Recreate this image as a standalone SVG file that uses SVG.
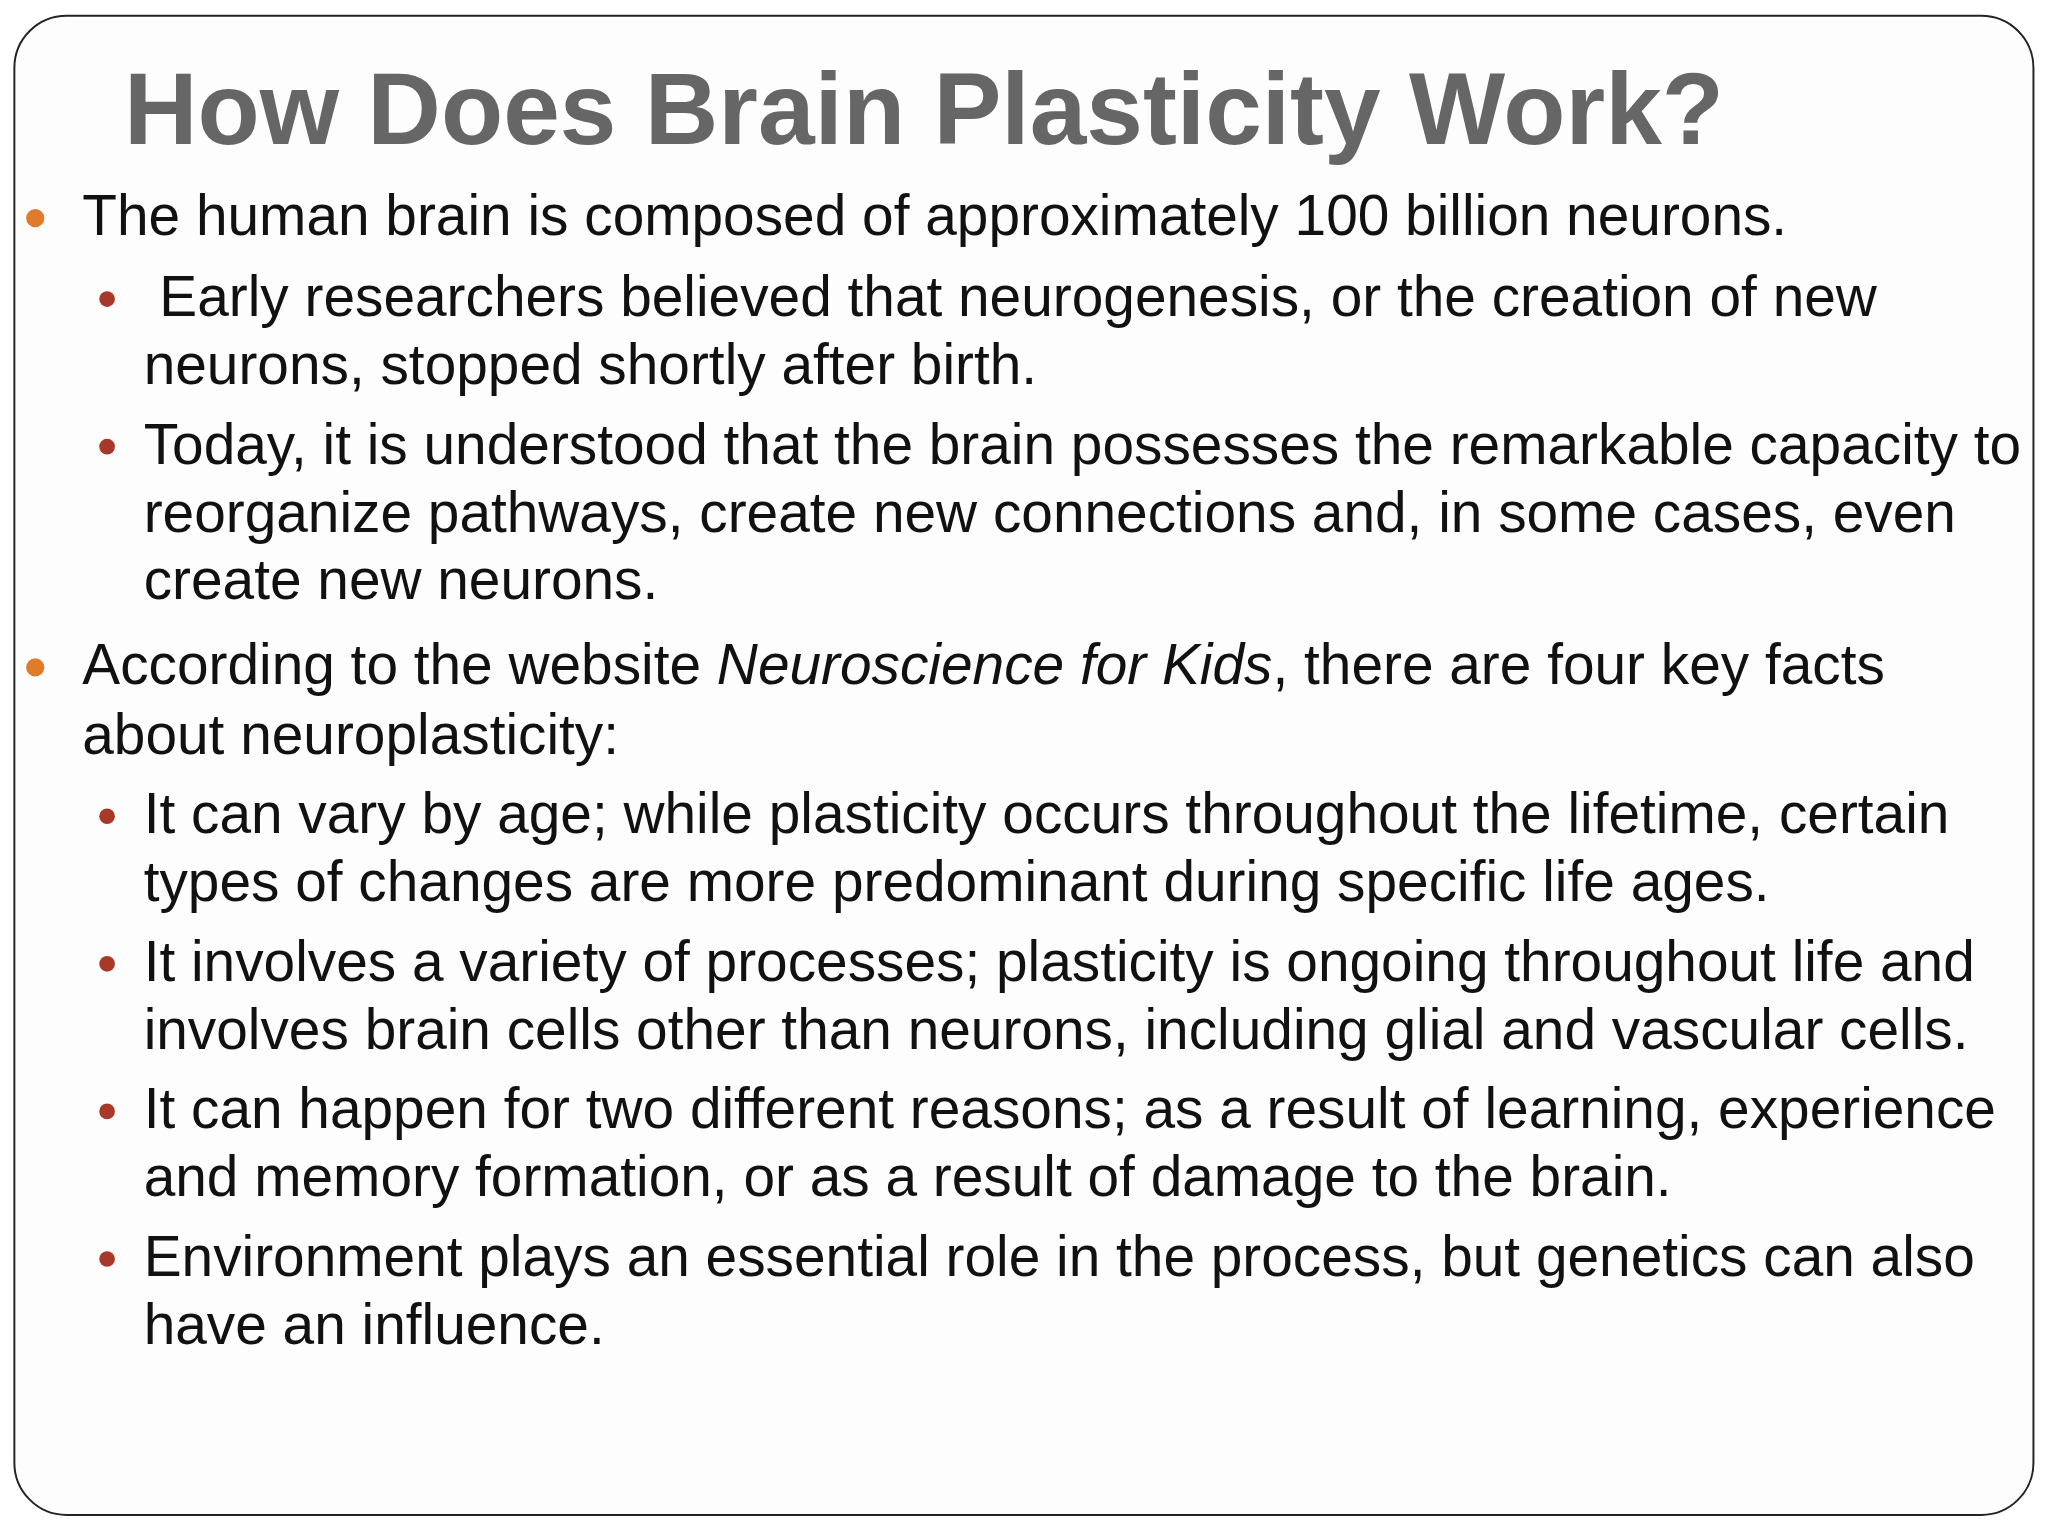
<svg xmlns="http://www.w3.org/2000/svg" width="2048" height="1536" viewBox="0 0 2048 1536">
<style>
.t{font-family:"Liberation Sans",Arial,sans-serif;font-size:43.5px;fill:#111}
.h{font-family:"Liberation Sans",Arial,sans-serif;font-size:78px;font-weight:bold;fill:#666}
.b1{fill:#e07b2a}
.b2{fill:#a8392a}
</style>
<rect width="2048" height="1536" fill="#fff"/>
<g transform="scale(1.306)">
<rect x="11" y="12" width="1546" height="1148" rx="40" fill="#fdfdfd" stroke="#222" stroke-width="1.5"/>
<g id="title"><text class="h" x="95" y="110">How Does Brain Plasticity Work?</text></g>
<g id="bullets">
<circle class="b1" cx="27" cy="167" r="7"/>
<circle class="b2" cx="82" cy="229" r="6"/>
<circle class="b2" cx="82" cy="342" r="6"/>
<circle class="b1" cx="27" cy="511" r="7"/>
<circle class="b2" cx="82" cy="625" r="6"/>
<circle class="b2" cx="82" cy="738" r="6"/>
<circle class="b2" cx="82" cy="851" r="6"/>
<circle class="b2" cx="82" cy="964" r="6"/>
</g>
<g id="text">
<text class="t" x="63" y="180">The human brain is composed of approximately 100 billion neurons.</text>
<text class="t" x="122" y="242">Early researchers believed that neurogenesis, or the creation of new</text>
<text class="t" x="110" y="294">neurons, stopped shortly after birth.</text>
<text class="t" x="110" y="355">Today, it is understood that the brain possesses the remarkable capacity to</text>
<text class="t" x="110" y="407">reorganize pathways, create new connections and, in some cases, even</text>
<text class="t" x="110" y="459">create new neurons.</text>
<text class="t" x="63" y="524">According to the website <tspan font-style="italic">Neuroscience for Kids</tspan>, there are four key facts</text>
<text class="t" x="63" y="577">about neuroplasticity:</text>
<text class="t" x="110" y="638">It can vary by age; while plasticity occurs throughout the lifetime, certain</text>
<text class="t" x="110" y="690">types of changes are more predominant during specific life ages.</text>
<text class="t" x="110" y="751">It involves a variety of processes; plasticity is ongoing throughout life and</text>
<text class="t" x="110" y="803">involves brain cells other than neurons, including glial and vascular cells.</text>
<text class="t" x="110" y="864">It can happen for two different reasons; as a result of learning, experience</text>
<text class="t" x="110" y="916">and memory formation, or as a result of damage to the brain.</text>
<text class="t" x="110" y="977">Environment plays an essential role in the process, but genetics can also</text>
<text class="t" x="110" y="1029">have an influence.</text>
</g>
</g>
</svg>
